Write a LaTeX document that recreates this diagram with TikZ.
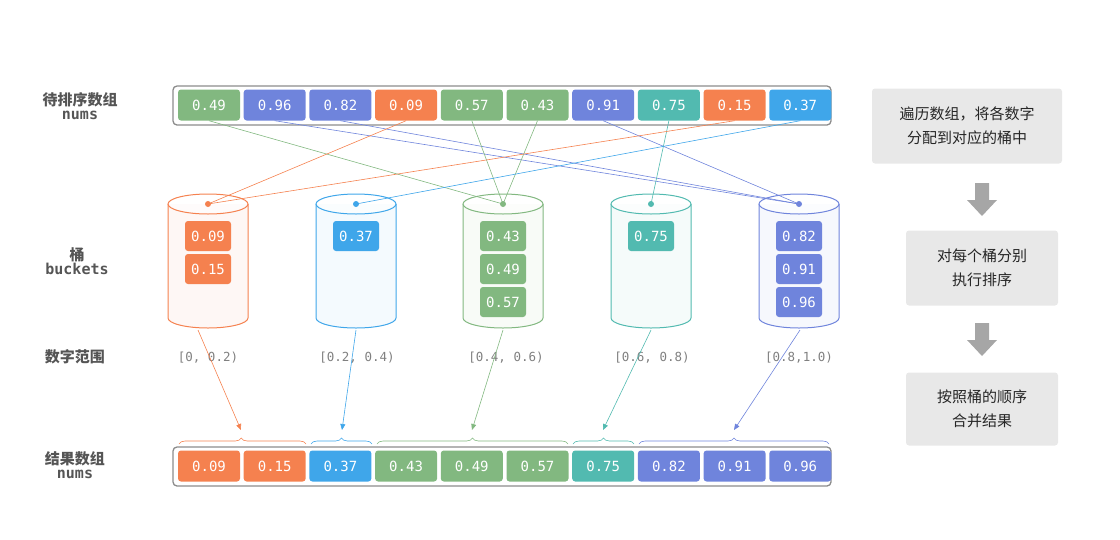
\documentclass[tikz,border=0pt]{standalone}
\usepackage{fontspec}
\newfontfamily\cjk{Noto Sans CJK SC}
\newfontfamily\mono{DejaVu Sans Mono}
\usetikzlibrary{arrows.meta,decorations.pathreplacing}
\definecolor{cg}{HTML}{82B880}
\definecolor{cp}{HTML}{6F84DC}
\definecolor{co}{HTML}{F5814F}
\definecolor{cb}{HTML}{3FA6EA}
\definecolor{ct}{HTML}{52BAB0}
\definecolor{lab}{HTML}{555555}
\begin{document}
\begin{tikzpicture}[x=1pt,y=-1pt,
 cell/.style={rounded corners=3pt,minimum width=62pt,minimum height=31pt,inner sep=0,text=white,font=\mono\fontsize{14}{14}\selectfont},
 bcell/.style={cell,minimum width=46pt,minimum height=30pt},
 arr/.style={rounded corners=4pt,draw=black!45,line width=1.3pt},
 lbl/.style={font=\cjk\bfseries\fontsize{15}{18}\selectfont,text=lab,align=center},
 rng/.style={font=\mono\fontsize{12.5}{14}\selectfont,text=black!50},
 stepbox/.style={fill=black!9,rounded corners=3pt,font=\cjk\fontsize{15}{24}\selectfont,text=black!85,align=center},
 link/.style={line width=0.6pt},
 brc/.style={decorate,decoration={brace,amplitude=6pt,aspect=#1},line width=0.6pt},
 tip/.style={line width=0.6pt,-{Triangle[length=6pt,width=5pt]}}]
\useasboundingbox (0,0) rectangle (1120,539);
% labels
\node[lbl] (l1) at (80,106) {待排序数组\\[-4pt]{\mono nums}};
\node[lbl] (l2) at (77,261) {桶\\[-4pt]{\mono buckets}};
\node[lbl] (l3) at (75,357) {数字范围};
\node[lbl] (l4) at (75,465) {结果数组\\[-4pt]{\mono nums}};
% top array
\node[arr,minimum width=658pt,minimum height=39pt] (top) at (502,105.5) {};
\foreach \v/\c [count=\i] in {0.49/cg,0.96/cp,0.82/cp,0.09/co,0.57/cg,0.43/cg,0.91/cp,0.75/ct,0.15/co,0.37/cb}
  \node[cell,fill=\c] (t\i) at ({209+65.7*(\i-1)},105) {\v};
% cylinders
\foreach \x/\c [count=\k] in {208/co,356/cb,503/cg,651/ct,799/cp}{
  \fill[\c!6] (\x-40,204) -- (\x-40,318) arc[start angle=180,end angle=360,x radius=40pt,y radius=10pt] -- (\x+40,204) -- cycle;
  \draw[\c,line width=1pt] (\x-40,204) -- (\x-40,318) arc[start angle=180,end angle=360,x radius=40pt,y radius=10pt] -- (\x+40,204);
  \draw[\c,line width=1pt,fill=white,fill opacity=0.6] (\x,204) ellipse[x radius=40pt,y radius=10pt];
  \coordinate (d\k) at (\x,204);
}
% links
\foreach \i/\k/\c in {1/3/cg,2/5/cp,3/5/cp,4/1/co,5/3/cg,6/3/cg,7/5/cp,8/4/ct,9/1/co,10/2/cb}
  \draw[link,\c] (t\i.south) -- (d\k);
\foreach \k/\c in {1/co,2/cb,3/cg,4/ct,5/cp} \fill[\c] (d\k) circle (3pt);
% bucket cells
\node[bcell,fill=co] (b11) at (208,236) {0.09};
\node[bcell,fill=co] (b12) at (208,269) {0.15};
\node[bcell,fill=cb] (b21) at (356,236) {0.37};
\node[bcell,fill=cg] (b31) at (503,236) {0.43};
\node[bcell,fill=cg] (b32) at (503,269) {0.49};
\node[bcell,fill=cg] (b33) at (503,302) {0.57};
\node[bcell,fill=ct] (b41) at (651,236) {0.75};
\node[bcell,fill=cp] (b51) at (799,236) {0.82};
\node[bcell,fill=cp] (b52) at (799,269) {0.91};
\node[bcell,fill=cp] (b53) at (799,302) {0.96};
\coordinate (bot1) at (198,330);
\coordinate (bot2) at (356,330);
\coordinate (bot3) at (503,330);
\coordinate (bot4) at (651,330);
\coordinate (bot5) at (800,330);
% ranges
\node[rng] (r1) at (208,358) {[0, 0.2)};
\node[rng] (r2) at (357,358) {[0.2, 0.4)};
\node[rng] (r3) at (506,358) {[0.4, 0.6)};
\node[rng] (r4) at (652,358) {[0.6, 0.8)};
\node[rng] (r5) at (799,358) {[0.8,1.0)};
% bottom array
\node[arr,minimum width=658pt,minimum height=39pt] (bot) at (502,466.5) {};
\foreach \v/\c [count=\i] in {0.09/co,0.15/co,0.37/cb,0.43/cg,0.49/cg,0.57/cg,0.75/ct,0.82/cp,0.91/cp,0.96/cp}
  \node[cell,fill=\c] (s\i) at ({209+65.7*(\i-1)},466) {\v};
% braces
\draw[brc=0.49,co] (179,444) -- (306,444); \coordinate (p1) at (241,430);
\draw[brc=0.5,cb] (311,444) -- (372,444); \coordinate (p2) at (342,430);
\draw[brc=0.5,cg] (377,444) -- (568,444); \coordinate (p3) at (472,430);
\draw[brc=0.5,ct] (573,444) -- (634,444); \coordinate (p4) at (603,430);
\draw[brc=0.5,cp] (639,444) -- (829,444); \coordinate (p5) at (734,430);
\draw[tip,co] (bot1) -- (p1);
\draw[tip,cb] (bot2) -- (p2);
\draw[tip,cg] (bot3) -- (p3);
\draw[tip,ct] (bot4) -- (p4);
\draw[tip,cp] (bot5) -- (p5);
% steps
\node[stepbox,minimum width=190pt,minimum height=75pt] (st1) at (967,126) {遍历数组，将各数字\\分配到对应的桶中};
\node[stepbox,minimum width=152pt,minimum height=75pt] (st2) at (982,268) {对每个桶分别\\执行排序};
\node[stepbox,minimum width=152pt,minimum height=73pt] (st3) at (982,409) {按照桶的顺序\\合并结果};
\foreach \y in {183,323}
  \fill[black!35] (982-7,\y) -- (982+7,\y) -- (982+7,\y+17) -- (982+15,\y+17) -- (982,\y+33) -- (982-15,\y+17) -- (982-7,\y+17) -- cycle;
\end{tikzpicture}
\end{document}
